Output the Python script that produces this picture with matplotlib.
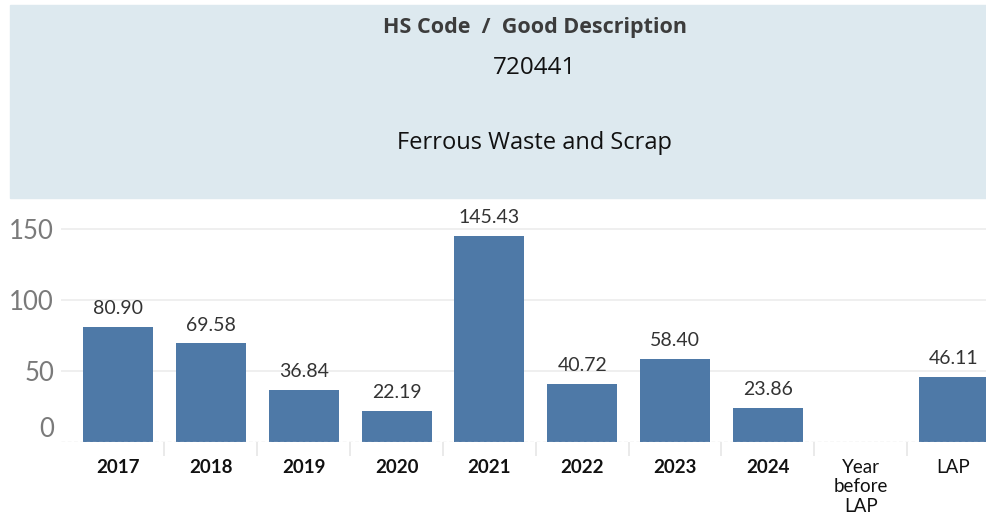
import matplotlib.pyplot as plt
from matplotlib.patches import Rectangle

categories = ["2017", "2018", "2019", "2020", "2021", "2022", "2023", "2024", "Year\nbefore\nLAP", "LAP"]
values = [80.90, 69.58, 36.84, 22.19, 145.43, 40.72, 58.40, 23.86, None, 46.11]
y_ticks = [0, 50, 100, 150]

header_title = "HS Code  /  Good Description"
hs_code = "720441"
good_desc = "Ferrous Waste and Scrap"

BAR_COLOR = "#4e79a7"
W, H = 987, 522

fig = plt.figure(figsize=(W / 100, H / 100), dpi=100)
plt.rcParams['font.family'] = ['Lato', 'DejaVu Sans']

# header panel
fig.patches.append(Rectangle((10 / W, 1 - 198 / H), 977 / W, 193 / H,
                             transform=fig.transFigure, color="#dde9ef", zorder=0))
fig.text(535 / W, 1 - 27 / H, header_title, ha="center", va="center",
         fontsize=15.5, fontweight="bold", color="#3c3c3c", family=["Open Sans", "DejaVu Sans"])
fig.text(535 / W, 1 - 68 / H, hs_code, ha="center", va="center",
         fontsize=17.5, color="#111111", family=["Open Sans", "DejaVu Sans"])
fig.text(535 / W, 1 - 143 / H, good_desc, ha="center", va="center",
         fontsize=17, color="#111111", family=["Open Sans", "DejaVu Sans"])

ax = fig.add_axes([61 / W, 1 - 442 / H, 926 / W, 237 / H])
xs = list(range(len(categories)))
bar_x = [x for x, v in zip(xs, values) if v is not None]
bar_v = [v for v in values if v is not None]
bars = ax.bar(bar_x, bar_v, width=0.754, color=BAR_COLOR, zorder=2)
for x, v in zip(bar_x, bar_v):
    ax.annotate(f"{v:.2f}", (x, v), xytext=(0, 7), textcoords="offset points",
                ha="center", va="bottom", fontsize=14, color="#333333")

ax.set_xlim(-0.614, 9.36)
ax.set_ylim(0, 167)
for s in ax.spines.values():
    s.set_visible(False)
ax.axhline(0, color="#c8c8c8", linestyle=(0, (3, 2)), linewidth=0.9, zorder=3)
for t in y_ticks[1:]:
    ax.axhline(t, color="#eeeeee", linewidth=1.3, zorder=1)

ax.set_yticks(y_ticks)
ax.set_yticklabels([str(t) for t in y_ticks], fontsize=18.5, color="#7a7a7a")
ax.tick_params(axis="y", length=0, pad=5)
ylabels = ax.get_yticklabels()
ylabels[0].set_va("bottom")

# category separators
ax.set_xticks([x + 0.5 for x in xs[:-1]], minor=True)
ax.tick_params(axis="x", which="minor", length=10, color="#e6e6e6", width=1.2)
ax.set_xticks(xs)
ax.set_xticklabels(categories, fontsize=13.5, color="#111111", linespacing=1.2)
ax.tick_params(axis="x", which="major", length=0, pad=12)
for lbl, c in zip(ax.get_xticklabels(), categories):
    if c.isdigit():
        lbl.set_fontweight("bold")

fig.savefig("out.png", dpi=100)
